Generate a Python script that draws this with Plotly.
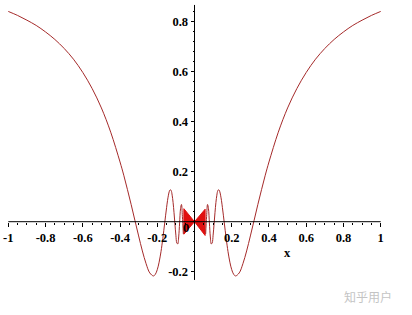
import plotly.graph_objects as go

# ---- data (right half; the curve is mirror-symmetric) ----
x_pos = [1.0, 0.95, 0.9, 0.85, 0.8, 0.75, 0.7, 0.65, 0.6, 0.55, 0.5, 0.45, 0.4,
         0.38, 0.36, 0.34, 0.32, 0.3, 0.28, 0.26, 0.24, 0.22, 0.21, 0.2, 0.19,
         0.18, 0.175, 0.17, 0.165, 0.16, 0.155, 0.15, 0.145, 0.14, 0.135, 0.13,
         0.125, 0.12, 0.115, 0.11, 0.105, 0.10, 0.095, 0.09, 0.085, 0.08, 0.075,
         0.07, 0.065, 0.06]
y_pos = [0.841, 0.825, 0.806, 0.785, 0.759, 0.729, 0.693, 0.650, 0.597, 0.533, 0.455,
         0.358, 0.239, 0.186, 0.128, 0.068, 0.005, -0.057, -0.117, -0.168, -0.205,
         -0.217, -0.210, -0.192, -0.162, -0.120, -0.094, -0.067, -0.036, -0.005,
         0.026, 0.056, 0.084, 0.106, 0.122, 0.128, 0.124, 0.106, 0.077, 0.036,
         -0.010, -0.054, -0.085, -0.089, -0.061, -0.005, 0.052, 0.069, 0.021, -0.049]

# dense-oscillation blob near the origin (bow-tie outline)
blob_x = [0.0, 0.057, 0.057, 0.0, -0.057, -0.057, 0.0]
blob_y = [0.0, 0.050, -0.055, 0.0, -0.050, 0.052, 0.0]

x_ticks = [-1, -0.8, -0.6, -0.4, -0.2, 0.2, 0.4, 0.6, 0.8, 1]
x_tick_text = ["-1", "-0.8", "-0.6", "-0.4", "-0.2", "0.2", "0.4", "0.6", "0.8", "1"]
y_ticks = [-0.2, 0.2, 0.4, 0.6, 0.8]
y_tick_text = ["-0.2", "0.2", "0.4", "0.6", "0.8"]
x_minor = [round(-1 + 0.05 * i, 3) for i in range(41)]
y_minor = [round(-0.2 + 0.04 * i, 3) for i in range(27)]

# full curve: left half (mirrored) + right half
x_all = [-v for v in x_pos] + [None] + x_pos[::-1]
y_all = y_pos + [None] + y_pos[::-1]

X_RANGE = [-1.0446, 1.1681]
Y_RANGE = [-0.3732, 0.8868]
x_axis_pos = (0 - Y_RANGE[0]) / (Y_RANGE[1] - Y_RANGE[0])
y_axis_pos = (0 - X_RANGE[0]) / (X_RANGE[1] - X_RANGE[0])

font_lbl = dict(family="Liberation Serif", size=12.5, color="black", weight="bold")

fig = go.Figure()
fig.add_trace(go.Scatter(x=blob_x, y=blob_y, mode="lines", fill="toself",
                         fillcolor="#e01010", line=dict(color="#e01010", width=1),
                         hoverinfo="skip"))
fig.add_trace(go.Scatter(x=x_all, y=y_all, mode="lines", line_shape="spline",
                         line=dict(color="#a52a2a", width=1), connectgaps=False))

# axis lines through the origin
fig.add_shape(type="line", x0=-1, x1=1, y0=0, y1=0, xref="x", yref="y",
              line=dict(color="black", width=1))
fig.add_shape(type="line", x0=0, x1=0, y0=-0.233, y1=0.867, xref="x", yref="y",
              line=dict(color="black", width=1))

fig.update_layout(
    width=412, height=315, margin=dict(l=0, r=0, t=0, b=0),
    paper_bgcolor="white", plot_bgcolor="white", showlegend=False,
    xaxis=dict(range=X_RANGE, anchor="free", position=x_axis_pos, showgrid=False,
               zeroline=False, showline=False, tickmode="array", tickvals=x_ticks,
               ticktext=x_tick_text, ticks="outside", ticklen=4, tickcolor="black",
               tickfont=font_lbl,
               minor=dict(tickmode="array", tickvals=x_minor, ticks="outside",
                          ticklen=2, tickcolor="black", showgrid=False)),
    yaxis=dict(range=Y_RANGE, anchor="free", position=y_axis_pos, showgrid=False,
               zeroline=False, showline=False, tickmode="array", tickvals=y_ticks,
               ticktext=y_tick_text, ticks="outside", ticklen=4, tickcolor="black",
               tickfont=font_lbl,
               minor=dict(tickmode="array", tickvals=y_minor, ticks="outside",
                          ticklen=2, tickcolor="black", showgrid=False)),
)

fig.add_annotation(x=-0.047, y=-0.025, text="0", showarrow=False, font=font_lbl,
                   xref="x", yref="y")
fig.add_annotation(x=0.497, y=-0.125, text="x", showarrow=False, font=font_lbl,
                   xref="x", yref="y")
fig.add_annotation(x=0.893, y=0.06, xref="paper", yref="paper", text="知乎用户",
                   xanchor="center", yanchor="middle", showarrow=False,
                   font=dict(family="Noto Sans CJK SC", size=12, color="#c4c4c4"))

fig.write_html("out.html")
